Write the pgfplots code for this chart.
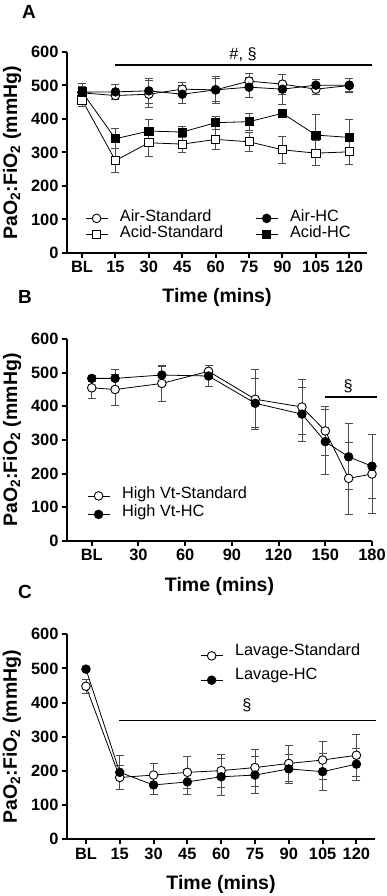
\documentclass[border=0pt]{standalone}
\usepackage{fontspec}
\setmainfont{Liberation Sans}
\usepackage{pgfplots}
\pgfplotsset{compat=1.18}
\definecolor{ebar}{RGB}{75,75,75}
\pgfplotsset{
  prism/.style={
    scale only axis, clip=false,
    axis x line*=bottom, axis y line*=left,
    axis line style={line width=2.3pt, black},
    every tick/.style={black, line width=2pt},
    major tick length=5pt, tick align=outside,
    ymin=0, ymax=600, ytick={0,100,...,600},
    ticklabel style={font=\fontsize{16.4}{17}\selectfont\bfseries},
    /pgf/number format/assume math mode=true,
    label style={font=\fontsize{19.5}{21}\selectfont\bfseries},
    ylabel={PaO\textsubscript{2}:FiO\textsubscript{2} (mmHg)},
    xlabel={Time (mins)},
    ylabel style={anchor=center, inner sep=0pt},
    legend cell align=left,
    legend image code/.code={\draw[mark repeat=2,mark phase=2,##1] plot coordinates {(0pt,0pt) (11pt,0pt) (22pt,0pt)};},
  },
  ser/.style={black, line width=0.8pt, mark size=4.3pt,
    error bars/y dir=both, error bars/y explicit,
    error bars/error bar style={ebar, line width=0.8pt},
    error bars/error mark options={ebar, line width=0.8pt, mark size=4pt, rotate=90}},
  oc/.style={ser, mark=*, mark options={fill=white, draw=black, line width=0.9pt}},
  fc/.style={ser, mark=*, mark options={fill=black, draw=black}},
  os/.style={ser, mark=square*, mark options={fill=white, draw=black, line width=0.9pt}, mark size=4.1pt},
  fs/.style={ser, mark=square*, mark options={fill=black, draw=black}, mark size=4.1pt},
}
\begin{document}
\begin{tikzpicture}
\path[use as bounding box] (0pt,0pt) rectangle (386pt,896pt);
\node[font=\fontsize{19}{19}\selectfont\bfseries] at (29pt,884pt) {A};
\node[font=\fontsize{19}{19}\selectfont\bfseries] at (25pt,599pt) {B};
\node[font=\fontsize{19}{19}\selectfont\bfseries] at (25pt,304.5pt) {C};
% Panel A
\begin{axis}[prism, at={(67pt,643pt)}, anchor=south west, width=300pt, height=201pt,
  xmin=-0.45, xmax=8.53, xtick={0,...,8}, xticklabels={BL,15,30,45,60,75,90,105,120},
  ylabel style={at={(axis description cs:-0.1833,0.5)}},
  xlabel style={at={(axis description cs:0.5,-0.219)}, anchor=center},
  legend columns=2,
  legend style={draw=none, fill=none, inner sep=0pt, at={(axis description cs:0.06,0.213)}, anchor=north west,
    font=\fontsize{16.3}{16}\selectfont, nodes={inner sep=0pt, text height=11.5pt, text depth=4.5pt},
    /tikz/every odd column/.append style={column sep=12pt},
    /tikz/every even column/.append style={column sep=32pt}}]
\addplot[oc] coordinates {(0,478) +- (0,20) (1,470) +- (0,13) (2,474) +- (0,40) (3,489) +- (0,20) (4,487) +- (0,40) (5,513) +- (0,22) (6,504) +- (0,30) (7,489) +- (0,15) (8,500) +- (0,22)};
\addlegendentry{Air-Standard}
\addplot[fc] coordinates {(0,480) +- (0,25) (1,481) +- (0,23) (2,484) +- (0,38) (3,474) +- (0,27) (4,487) +- (0,35) (5,495) +- (0,30) (6,489) +- (0,45) (7,501) +- (0,18) (8,501) +- (0,20)};
\addlegendentry{Air-HC}
\addplot[os] coordinates {(0,457) +- (0,20) (1,276) +- (0,36) (2,329) +- (0,40) (3,325) +- (0,26) (4,339) +- (0,30) (5,332) +- (0,28) (6,308) +- (0,40) (7,298) +- (0,37) (8,302) +- (0,37)};
\addlegendentry{Acid-Standard}
\addplot[fs] coordinates {(0,481) +- (0,25) (1,341) +- (0,30) (2,364) +- (0,35) (3,361) +- (0,16) (4,389) +- (0,20) (5,392) +- (0,25) (6,417) +- (0,8) (7,352) +- (0,62) (8,345) +- (0,55)};
\addlegendentry{Acid-HC}
\draw[line width=1.3pt] (axis cs:0.98,561) -- (axis cs:8.68,561);
\node[font=\fontsize{16.3}{16}\selectfont] at (axis cs:4.82,591) {\#, §};
\end{axis}
% Panel B
\begin{axis}[prism, at={(67pt,355pt)}, anchor=south west, width=305pt, height=202pt,
  xmin=-15.9, xmax=180, xtick={0,30,60,90,120,150,180}, xticklabels={BL,30,60,90,120,150,180},
  ylabel style={at={(axis description cs:-0.1803,0.5)}},
  xlabel style={at={(axis description cs:0.5,-0.223)}, anchor=center},
  legend style={draw=none, fill=none, inner sep=0pt, at={(axis description cs:0.0656,0.27)}, anchor=north west,
    font=\fontsize{16.3}{16}\selectfont, nodes={inner sep=0pt, text height=11.5pt, text depth=7pt},
    /tikz/every odd column/.append style={column sep=12pt}}]
\addplot[oc] coordinates {(0,455) +- (0,32) (15,450) +- (0,46) (45,468) +- (0,52) (75,504) +- (0,18) (105,421) +- (0,90) (135,398) +- (0,82) (150,327) +- (0,73) (165,186) +- (0,108) (180,199) +- (0,118)};
\addlegendentry{High Vt-Standard}
\addplot[fc] coordinates {(0,483) +- (0,10) (15,483) +- (0,27) (45,493) +- (0,30) (75,490) +- (0,32) (105,409) +- (0,73) (135,377) +- (0,80) (150,295) +- (0,97) (165,250) +- (0,98) (180,222) +- (0,95)};
\addlegendentry{High Vt-HC}
\draw[line width=1.3pt] (axis cs:149.8,428) -- (axis cs:183.2,428);
\node[font=\fontsize{16.3}{16}\selectfont] at (axis cs:164.7,461) {§};
\end{axis}
% Panel C
\begin{axis}[prism, at={(67pt,56.7pt)}, anchor=south west, width=308pt, height=205pt,
  xmin=-0.56, xmax=8.55, xtick={0,...,8}, xticklabels={BL,15,30,45,60,75,90,105,120},
  ylabel style={at={(axis description cs:-0.1786,0.5)}},
  xlabel style={at={(axis description cs:0.5,-0.218)}, anchor=center},
  legend style={draw=none, fill=none, inner sep=0pt, at={(axis description cs:0.432,0.955)}, anchor=north west,
    font=\fontsize{16.3}{16}\selectfont, nodes={inner sep=0pt, text height=11.5pt, text depth=12.8pt},
    /tikz/every odd column/.append style={column sep=12pt}}]
\addplot[oc] coordinates {(0,448) +- (0,20) (1,181) +- (0,36) (2,188) +- (0,34) (3,196) +- (0,47) (4,201) +- (0,48) (5,210) +- (0,54) (6,222) +- (0,52) (7,232) +- (0,56) (8,246) +- (0,61)};
\addlegendentry{Lavage-Standard}
\addplot[fc] coordinates {(0,498) +- (0,8) (1,196) +- (0,50) (2,159) +- (0,29) (3,168) +- (0,36) (4,183) +- (0,55) (5,188) +- (0,55) (6,206) +- (0,42) (7,198) +- (0,54) (8,220) +- (0,47)};
\addlegendentry{Lavage-HC}
\draw[line width=1.3pt] (axis cs:0.98,347) -- (axis cs:8.58,347);
\node[font=\fontsize{16.3}{16}\selectfont] at (axis cs:4.76,391) {§};
\end{axis}
\end{tikzpicture}
\end{document}
